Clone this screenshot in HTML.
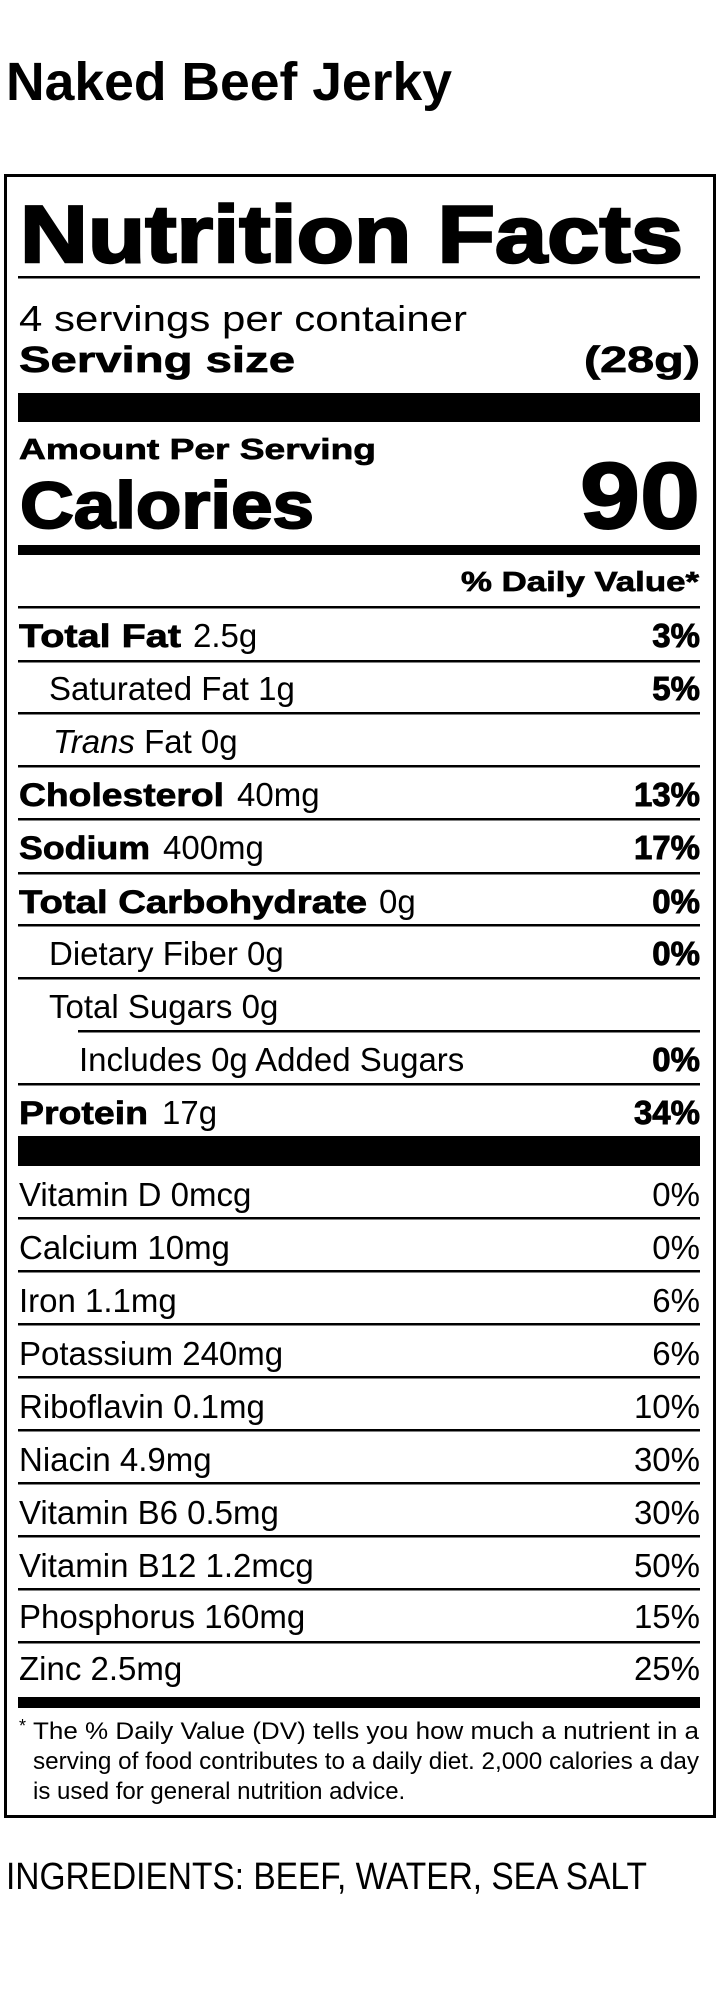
<!DOCTYPE html>
<html><head><meta charset="utf-8"><style>
html,body{margin:0;padding:0;background:#fff}
svg{display:block}
text{font-family:"Liberation Sans",Arial,sans-serif;fill:#000}
.b{font-weight:bold;stroke:#000;stroke-width:0.7}
.r{font-size:33px}
.p{font-size:33px;font-weight:bold;stroke:#000;stroke-width:0.9;text-anchor:end}
.v{font-size:33px;text-anchor:end}
</style></head><body>
<svg width="722" height="1991" viewBox="0 0 722 1991" xmlns="http://www.w3.org/2000/svg">
<rect width="722" height="1991" fill="#fff"/>
<text x="6" y="100" font-size="54" font-weight="bold" textLength="446" lengthAdjust="spacingAndGlyphs">Naked Beef Jerky</text>
<rect x="5.5" y="175.5" width="709" height="1641" fill="none" stroke="#000" stroke-width="3"/>
<text x="20" y="262" font-size="81" font-weight="bold" stroke="#000" stroke-width="2.5" textLength="663" lengthAdjust="spacingAndGlyphs">Nutrition Facts</text>
<rect x="18" y="276" width="682" height="2.5"/>
<text x="19" y="331" font-size="36" textLength="448" lengthAdjust="spacingAndGlyphs">4 servings per container</text>
<text x="19" y="372" font-size="36" class="b" textLength="276" lengthAdjust="spacingAndGlyphs">Serving size</text>
<text x="584" y="372" font-size="36" class="b" textLength="116" lengthAdjust="spacingAndGlyphs">(28g)</text>
<rect x="18" y="393" width="682" height="29"/>
<text x="19" y="459" font-size="29" class="b" textLength="357" lengthAdjust="spacingAndGlyphs">Amount Per Serving</text>
<text x="20" y="528" font-size="66" font-weight="bold" stroke="#000" stroke-width="2" textLength="294" lengthAdjust="spacingAndGlyphs">Calories</text>
<text x="580" y="528" font-size="94" font-weight="bold" stroke="#000" stroke-width="2" textLength="120" lengthAdjust="spacingAndGlyphs">90</text>
<rect x="18" y="545" width="682" height="10"/>
<text x="461" y="591" font-size="28" class="b" textLength="238" lengthAdjust="spacingAndGlyphs">% Daily Value*</text>
<rect x="18" y="606" width="682" height="2.5"/>

<text x="19" y="647" font-size="32" class="b" textLength="162" lengthAdjust="spacingAndGlyphs">Total Fat</text>
<text x="193" y="647" class="r">2.5g</text><text x="700" y="647" class="p">3%</text>
<rect x="18" y="660" width="682" height="2.5"/>
<text x="49" y="700" class="r">Saturated Fat 1g</text><text x="700" y="700" class="p">5%</text>
<rect x="18" y="712" width="682" height="2.5"/>
<text x="53" y="753" class="r"><tspan font-style="italic">Trans</tspan> Fat 0g</text>
<rect x="18" y="765" width="682" height="2.5"/>
<text x="19" y="806" font-size="32" class="b" textLength="205" lengthAdjust="spacingAndGlyphs">Cholesterol</text>
<text x="237" y="806" class="r">40mg</text><text x="700" y="806" class="p">13%</text>
<rect x="18" y="818" width="682" height="2.5"/>
<text x="19" y="859" font-size="32" class="b" textLength="131" lengthAdjust="spacingAndGlyphs">Sodium</text>
<text x="163" y="859" class="r">400mg</text><text x="700" y="859" class="p">17%</text>
<rect x="18" y="872" width="682" height="2.5"/>
<text x="19" y="913" font-size="32" class="b" textLength="348" lengthAdjust="spacingAndGlyphs">Total Carbohydrate</text>
<text x="379" y="913" class="r">0g</text><text x="700" y="913" class="p">0%</text>
<rect x="18" y="924" width="682" height="2.5"/>
<text x="49" y="965" class="r">Dietary Fiber 0g</text><text x="700" y="965" class="p">0%</text>
<rect x="18" y="977" width="682" height="2.5"/>
<text x="49" y="1018" class="r">Total Sugars 0g</text>
<rect x="78" y="1030" width="622" height="2.5"/>
<text x="79" y="1071" class="r">Includes 0g Added Sugars</text><text x="700" y="1071" class="p">0%</text>
<rect x="18" y="1083" width="682" height="2.5"/>
<text x="19" y="1124" font-size="32" class="b" textLength="129" lengthAdjust="spacingAndGlyphs">Protein</text>
<text x="162" y="1124" class="r">17g</text><text x="700" y="1124" class="p">34%</text>
<rect x="18" y="1136" width="682" height="30"/>

<text x="19" y="1206" class="r">Vitamin D 0mcg</text><text x="700" y="1206" class="v">0%</text>
<rect x="18" y="1217" width="682" height="2.5"/>
<text x="19" y="1259" class="r">Calcium 10mg</text><text x="700" y="1259" class="v">0%</text>
<rect x="18" y="1270" width="682" height="2.5"/>
<text x="19" y="1312" class="r">Iron 1.1mg</text><text x="700" y="1312" class="v">6%</text>
<rect x="18" y="1323" width="682" height="2.5"/>
<text x="19" y="1365" class="r">Potassium 240mg</text><text x="700" y="1365" class="v">6%</text>
<rect x="18" y="1376" width="682" height="2.5"/>
<text x="19" y="1418" class="r">Riboflavin 0.1mg</text><text x="700" y="1418" class="v">10%</text>
<rect x="18" y="1429" width="682" height="2.5"/>
<text x="19" y="1471" class="r">Niacin 4.9mg</text><text x="700" y="1471" class="v">30%</text>
<rect x="18" y="1482" width="682" height="2.5"/>
<text x="19" y="1524" class="r">Vitamin B6 0.5mg</text><text x="700" y="1524" class="v">30%</text>
<rect x="18" y="1535" width="682" height="2.5"/>
<text x="19" y="1577" class="r">Vitamin B12 1.2mcg</text><text x="700" y="1577" class="v">50%</text>
<rect x="18" y="1588" width="682" height="2.5"/>
<text x="19" y="1628" class="r">Phosphorus 160mg</text><text x="700" y="1628" class="v">15%</text>
<rect x="18" y="1641" width="682" height="2.5"/>
<text x="19" y="1680" class="r">Zinc 2.5mg</text><text x="700" y="1680" class="v">25%</text>
<rect x="18" y="1697" width="682" height="11"/>

<text x="19" y="1732" font-size="18">*</text>
<text x="33" y="1739" font-size="24" textLength="666" lengthAdjust="spacingAndGlyphs">The % Daily Value (DV) tells you how much a nutrient in a</text>
<text x="33" y="1769" font-size="24" textLength="666" lengthAdjust="spacingAndGlyphs">serving of food contributes to a daily diet. 2,000 calories a day</text>
<text x="33" y="1799" font-size="24">is used for general nutrition advice.</text>

<text x="6" y="1889" font-size="38" textLength="641" lengthAdjust="spacingAndGlyphs">INGREDIENTS: BEEF, WATER, SEA SALT</text>
</svg>
</body></html>
